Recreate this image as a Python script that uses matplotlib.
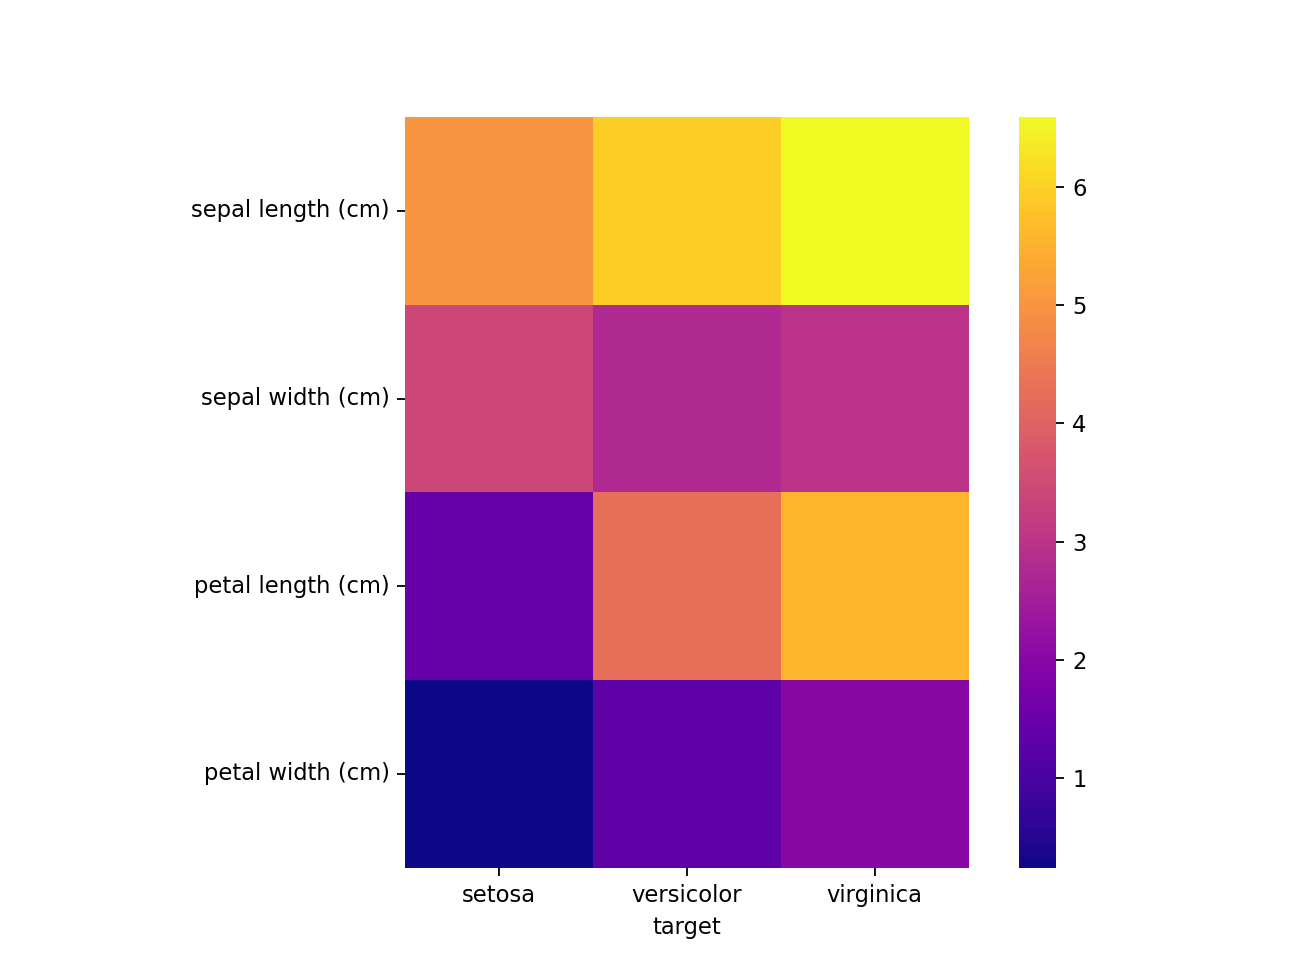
import matplotlib
matplotlib.use("Agg")
import matplotlib.pyplot as plt
import pandas as pd
import seaborn as sns

features = ["sepal length (cm)", "sepal width (cm)", "petal length (cm)", "petal width (cm)"]
species = ["setosa", "versicolor", "virginica"]

# mean value of each feature per species
setosa = [5.006, 3.428, 1.462, 0.246]
versicolor = [5.936, 2.770, 4.260, 1.326]
virginica = [6.588, 2.974, 5.552, 2.026]

df = pd.DataFrame({"setosa": setosa, "versicolor": versicolor, "virginica": virginica},
                  index=features)
df.columns.name = "target"

fig, ax = plt.subplots(figsize=(8, 6))
sns.heatmap(df, cmap="plasma", square=True, ax=ax)
ax.set_yticklabels(ax.get_yticklabels(), rotation=0)
ax.set_xticklabels(ax.get_xticklabels(), rotation=0)
ax.set_xlabel("target")
ax.set_ylabel("")

fig.savefig("out.png", dpi=162.5)
